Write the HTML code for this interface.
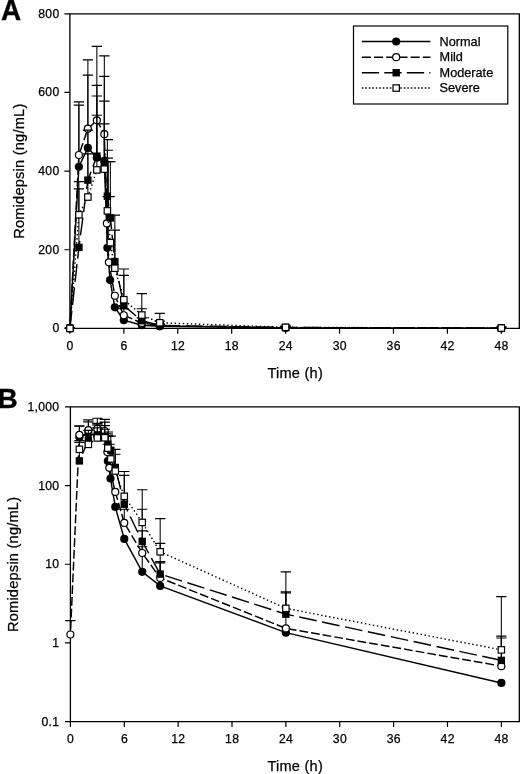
<!DOCTYPE html>
<html lang="en"><head><meta charset="utf-8"><title>Romidepsin concentration-time profiles</title>
<style>html,body{margin:0;padding:0;background:#fff}svg{display:block}</style></head>
<body>
<svg width="520" height="774" viewBox="0 0 520 774" font-family="'Liberation Sans', Arial, sans-serif" fill="#000">
<rect width="520" height="774" fill="#fff"/>
<path d="M69.9 13.8H519.3V328.4H69.9Z" fill="none" stroke="#000" stroke-width="1.3"/><path d="M69.90 328.4v5.3M123.83 328.4v5.3M177.76 328.4v5.3M231.68 328.4v5.3M285.61 328.4v5.3M339.54 328.4v5.3M393.47 328.4v5.3M447.40 328.4v5.3M501.32 328.4v5.3" stroke="#000" stroke-width="1.2" fill="none"/>
<path d="M69.9 328.40h-5.5M69.9 249.75h-5.5M69.9 171.10h-5.5M69.9 92.45h-5.5M69.9 13.80h-5.5" stroke="#000" stroke-width="1.2" fill="none"/>
<g clip-path="url(#ca)">
<path d="M69.90 328.40L78.89 166.77L87.88 147.90L96.86 157.73L104.32 160.88L107.38 247.78L110.05 280.03L114.84 307.36L123.83 320.14L141.80 325.25L159.78 326.32L285.61 327.87L501.32 328.28" fill="none" stroke="#000" stroke-width="1.45"/>
<path d="M78.89 166.77V105.03M87.88 147.90V75.15M96.86 157.73V85.37M104.32 160.88V76.33M107.38 247.78V158.12M141.80 325.25V321.83M159.78 326.32V324.15" fill="none" stroke="#000" stroke-width="1.05"/><path d="M73.74 105.03H84.04M82.73 75.15H93.03M91.71 85.37H102.01M99.17 76.33H109.47M103.60 158.12H113.00M136.65 321.83H146.95M154.63 324.15H164.93" fill="none" stroke="#000" stroke-width="1.2"/>
<circle cx="69.90" cy="328.40" r="4.1" fill="#000"/>
<circle cx="78.89" cy="166.77" r="4.1" fill="#000"/>
<circle cx="87.88" cy="147.90" r="4.1" fill="#000"/>
<circle cx="96.86" cy="157.73" r="4.1" fill="#000"/>
<circle cx="104.32" cy="160.88" r="4.1" fill="#000"/>
<circle cx="107.38" cy="247.78" r="4.1" fill="#000"/>
<circle cx="110.05" cy="280.03" r="4.1" fill="#000"/>
<circle cx="114.84" cy="307.36" r="4.1" fill="#000"/>
<circle cx="123.83" cy="320.14" r="4.1" fill="#000"/>
<circle cx="141.80" cy="325.25" r="4.1" fill="#000"/>
<circle cx="159.78" cy="326.32" r="4.1" fill="#000"/>
<circle cx="285.61" cy="327.87" r="4.1" fill="#000"/>
<circle cx="501.32" cy="328.28" r="4.1" fill="#000"/>
<path d="M69.90 327.90L78.89 154.98L87.88 128.63L96.86 120.37L104.32 134.13L106.88 223.40L108.85 262.33L114.84 295.76L123.83 315.23L141.80 322.93L159.78 325.77L285.61 327.80L501.32 328.20" fill="none" stroke="#000" stroke-width="1.45" stroke-dasharray="8.8 3.0"/>
<path d="M69.90 327.90V327.64M78.89 154.98V101.89M87.88 128.63V59.81M96.86 120.37V46.44M104.32 134.13V55.88M106.88 223.40V196.66M108.30 262.33V161.66M123.83 315.23V308.74M141.80 322.93V317.94M159.78 325.77V324.31M285.61 327.80V326.70M501.32 328.20V327.95" fill="none" stroke="#000" stroke-width="1.05"/><path d="M64.75 327.64H75.05M73.74 101.89H84.04M82.73 59.81H93.03M91.71 46.44H102.01M99.17 55.88H109.47M102.60 196.66H114.80M103.15 161.66H113.45M118.68 308.74H128.98M136.65 317.94H146.95M154.63 324.31H164.93M280.46 326.70H290.76M496.17 327.95H506.47" fill="none" stroke="#000" stroke-width="1.2"/>
<circle cx="69.90" cy="327.90" r="3.5" fill="#fff" stroke="#000" stroke-width="1.2"/>
<circle cx="78.89" cy="154.98" r="3.5" fill="#fff" stroke="#000" stroke-width="1.2"/>
<circle cx="87.88" cy="128.63" r="3.5" fill="#fff" stroke="#000" stroke-width="1.2"/>
<circle cx="96.86" cy="120.37" r="3.5" fill="#fff" stroke="#000" stroke-width="1.2"/>
<circle cx="104.32" cy="134.13" r="3.5" fill="#fff" stroke="#000" stroke-width="1.2"/>
<circle cx="106.88" cy="223.40" r="3.5" fill="#fff" stroke="#000" stroke-width="1.2"/>
<circle cx="108.85" cy="262.33" r="3.5" fill="#fff" stroke="#000" stroke-width="1.2"/>
<circle cx="114.84" cy="295.76" r="3.5" fill="#fff" stroke="#000" stroke-width="1.2"/>
<circle cx="123.83" cy="315.23" r="3.5" fill="#fff" stroke="#000" stroke-width="1.2"/>
<circle cx="141.80" cy="322.93" r="3.5" fill="#fff" stroke="#000" stroke-width="1.2"/>
<circle cx="159.78" cy="325.77" r="3.5" fill="#fff" stroke="#000" stroke-width="1.2"/>
<circle cx="285.61" cy="327.80" r="3.5" fill="#fff" stroke="#000" stroke-width="1.2"/>
<circle cx="501.32" cy="328.20" r="3.5" fill="#fff" stroke="#000" stroke-width="1.2"/>
<path d="M69.90 328.40L78.89 247.39L87.88 180.14L96.86 156.16L104.32 162.45L107.38 196.27L110.35 217.90L114.84 261.55L123.83 305.59L141.80 320.73L159.78 325.45L285.61 327.49L501.32 328.16" fill="none" stroke="#000" stroke-width="1.45" stroke-dasharray="17.8 5.6"/>
<path d="M78.89 247.39V188.80M87.88 180.14V130.20M96.86 156.16V95.99M104.32 162.45V101.10M107.38 196.27V150.26M110.35 217.90V161.66M114.84 261.55V215.14M123.83 305.59V275.31M141.80 320.73V308.74M159.78 325.45V321.16M285.61 327.49V326.64M501.32 328.16V327.92" fill="none" stroke="#000" stroke-width="1.05"/><path d="M73.74 188.80H84.04M82.73 130.20H93.03M91.71 95.99H102.01M99.17 101.10H109.47M103.60 150.26H113.00M105.20 161.66H115.50M109.69 215.14H119.99M118.68 275.31H128.98M136.65 308.74H146.95M154.63 321.16H164.93M280.46 326.64H290.76M496.17 327.92H506.47" fill="none" stroke="#000" stroke-width="1.2"/>
<rect x="66.20" y="324.70" width="7.4" height="7.4" fill="#000"/>
<rect x="75.19" y="243.69" width="7.4" height="7.4" fill="#000"/>
<rect x="84.18" y="176.44" width="7.4" height="7.4" fill="#000"/>
<rect x="93.16" y="152.46" width="7.4" height="7.4" fill="#000"/>
<rect x="100.62" y="158.75" width="7.4" height="7.4" fill="#000"/>
<rect x="103.68" y="192.57" width="7.4" height="7.4" fill="#000"/>
<rect x="106.65" y="214.20" width="7.4" height="7.4" fill="#000"/>
<rect x="111.14" y="257.85" width="7.4" height="7.4" fill="#000"/>
<rect x="120.13" y="301.89" width="7.4" height="7.4" fill="#000"/>
<rect x="138.10" y="317.03" width="7.4" height="7.4" fill="#000"/>
<rect x="156.08" y="321.75" width="7.4" height="7.4" fill="#000"/>
<rect x="281.91" y="323.79" width="7.4" height="7.4" fill="#000"/>
<rect x="497.62" y="324.46" width="7.4" height="7.4" fill="#000"/>
<path d="M69.90 328.40L78.89 214.75L87.88 197.05L96.86 169.92L104.32 169.13L107.38 210.82L110.35 242.67L114.84 268.23L123.83 299.69L141.80 315.03L159.78 322.74L285.61 327.32L501.32 328.08" fill="none" stroke="#000" stroke-width="1.45" stroke-dasharray="1.4 2.65"/>
<path d="M78.89 214.75V181.72M87.88 197.05V153.80M96.86 169.92V115.26M104.32 169.13V123.91M107.38 210.82V139.64M114.84 268.23V230.09M123.83 299.69V269.02M141.80 315.03V293.60M159.78 322.74V313.46M285.61 327.32V325.25M501.32 328.08V326.88" fill="none" stroke="#000" stroke-width="1.05"/><path d="M73.74 181.72H84.04M82.73 153.80H93.03M91.71 115.26H102.01M99.17 123.91H109.47M103.60 139.64H113.00M109.69 230.09H119.99M118.68 269.02H128.98M136.65 293.60H146.95M154.63 313.46H164.93M280.46 325.25H290.76M496.17 326.88H506.47" fill="none" stroke="#000" stroke-width="1.2"/>
<rect x="66.70" y="325.20" width="6.4" height="6.4" fill="#fff" stroke="#000" stroke-width="1.2"/>
<rect x="75.69" y="211.55" width="6.4" height="6.4" fill="#fff" stroke="#000" stroke-width="1.2"/>
<rect x="84.68" y="193.85" width="6.4" height="6.4" fill="#fff" stroke="#000" stroke-width="1.2"/>
<rect x="93.66" y="166.72" width="6.4" height="6.4" fill="#fff" stroke="#000" stroke-width="1.2"/>
<rect x="101.12" y="165.93" width="6.4" height="6.4" fill="#fff" stroke="#000" stroke-width="1.2"/>
<rect x="104.18" y="207.62" width="6.4" height="6.4" fill="#fff" stroke="#000" stroke-width="1.2"/>
<rect x="107.15" y="239.47" width="6.4" height="6.4" fill="#fff" stroke="#000" stroke-width="1.2"/>
<rect x="111.64" y="265.03" width="6.4" height="6.4" fill="#fff" stroke="#000" stroke-width="1.2"/>
<rect x="120.63" y="296.49" width="6.4" height="6.4" fill="#fff" stroke="#000" stroke-width="1.2"/>
<rect x="138.60" y="311.83" width="6.4" height="6.4" fill="#fff" stroke="#000" stroke-width="1.2"/>
<rect x="156.58" y="319.54" width="6.4" height="6.4" fill="#fff" stroke="#000" stroke-width="1.2"/>
<rect x="282.41" y="324.12" width="6.4" height="6.4" fill="#fff" stroke="#000" stroke-width="1.2"/>
<rect x="498.12" y="324.88" width="6.4" height="6.4" fill="#fff" stroke="#000" stroke-width="1.2"/>
</g>
<g font-size="12.2" text-anchor="end" stroke="#000" stroke-width="0.25" letter-spacing="0.3">
<text x="59.5" y="332.40">0</text>
<text x="59.5" y="253.75">200</text>
<text x="59.5" y="175.10">400</text>
<text x="59.5" y="96.45">600</text>
<text x="59.5" y="17.80">800</text>
</g>
<g font-size="12.2" text-anchor="middle" stroke="#000" stroke-width="0.25" letter-spacing="0.3">
<text x="70.10" y="350">0</text>
<text x="124.03" y="350">6</text>
<text x="177.96" y="350">12</text>
<text x="231.88" y="350">18</text>
<text x="285.81" y="350">24</text>
<text x="339.74" y="350">30</text>
<text x="393.67" y="350">36</text>
<text x="447.60" y="350">42</text>
<text x="501.52" y="350">48</text>
</g>
<g font-size="14.6" text-anchor="middle" stroke="#000" stroke-width="0.25" letter-spacing="0.22">
<text x="295.2" y="377.5">Time (h)</text>
<text x="295.2" y="771">Time (h)</text>
<text transform="translate(23.8 171.2) rotate(-90)">Romidepsin (ng/mL)</text>
<text transform="translate(17.6 564.4) rotate(-90)">Romidepsin (ng/mL)</text>
</g>
<g font-size="28" font-weight="bold" stroke="#000" stroke-width="0.35">
<text transform="translate(0.9 20) scale(0.975 1)" font-size="28.6">A</text>
<text x="-2.4" y="408.3">B</text>
</g>
<rect x="353.5" y="26" width="154.3" height="78" fill="#fff" stroke="#000" stroke-width="1.2"/>
<path d="M361.8 41.5H430.4" stroke="#000" stroke-width="1.45" fill="none"/>
<circle cx="396.20" cy="41.50" r="4.1" fill="#000"/>
<path d="M361.8 57.2H430.4" stroke="#000" stroke-width="1.45" fill="none" stroke-dasharray="9.1 3.1"/>
<circle cx="396.20" cy="57.20" r="3.5" fill="#fff" stroke="#000" stroke-width="1.2"/>
<path d="M361.8 72.75H430.4" stroke="#000" stroke-width="1.45" fill="none" stroke-dasharray="17.3 5.2"/>
<rect x="392.50" y="69.05" width="7.4" height="7.4" fill="#000"/>
<path d="M361.8 88.05H430.4" stroke="#000" stroke-width="1.45" fill="none" stroke-dasharray="1.5 2.0"/>
<rect x="393.00" y="84.85" width="6.4" height="6.4" fill="#fff" stroke="#000" stroke-width="1.2"/>
<g font-size="12.7" stroke="#000" stroke-width="0.25">
<text x="439.6" y="45.70">Normal</text>
<text x="439.6" y="61.40">Mild</text>
<text x="439.6" y="76.95">Moderate</text>
<text x="439.6" y="92.25">Severe</text>
</g>
<path d="M70.4 406.9H519.3V721.6H70.4Z" fill="none" stroke="#000" stroke-width="1.3"/><path d="M70.40 721.6v5.3M124.27 721.6v5.3M178.14 721.6v5.3M232.00 721.6v5.3M285.87 721.6v5.3M339.74 721.6v5.3M393.61 721.6v5.3M447.48 721.6v5.3M501.34 721.6v5.3" stroke="#000" stroke-width="1.2" fill="none"/>
<path d="M70.4 721.60h-5.5M70.4 642.92h-5.5M70.4 564.25h-5.5M70.4 485.57h-5.5M70.4 406.90h-5.5" stroke="#000" stroke-width="1.2" fill="none"/>
<path d="M79.38 437.28L88.36 433.51L97.33 435.42L104.79 436.06L107.84 461.05L110.50 478.50L115.29 506.95L124.27 538.90L142.22 571.87L160.18 585.94L285.87 632.67L501.34 682.94" fill="none" stroke="#000" stroke-width="1.45"/>
<path d="M79.38 437.28V426.23M88.36 433.51V421.94M97.33 435.42V423.34M104.79 436.06V422.10M107.84 461.05V435.50M142.22 571.87V546.73M160.18 585.94V561.62" fill="none" stroke="#000" stroke-width="1.05"/><path d="M74.23 426.23H84.53M83.21 421.94H93.51M92.18 423.34H102.48M99.64 422.10H109.94M103.60 435.50H113.00M137.07 546.73H147.37M155.03 561.62H165.33" fill="none" stroke="#000" stroke-width="1.2"/>
<circle cx="79.38" cy="437.28" r="4.1" fill="#000"/>
<circle cx="88.36" cy="433.51" r="4.1" fill="#000"/>
<circle cx="97.33" cy="435.42" r="4.1" fill="#000"/>
<circle cx="104.79" cy="436.06" r="4.1" fill="#000"/>
<circle cx="107.84" cy="461.05" r="4.1" fill="#000"/>
<circle cx="110.50" cy="478.50" r="4.1" fill="#000"/>
<circle cx="115.29" cy="506.95" r="4.1" fill="#000"/>
<circle cx="124.27" cy="538.90" r="4.1" fill="#000"/>
<circle cx="142.22" cy="571.87" r="4.1" fill="#000"/>
<circle cx="160.18" cy="585.94" r="4.1" fill="#000"/>
<circle cx="285.87" cy="632.67" r="4.1" fill="#000"/>
<circle cx="501.34" cy="682.94" r="4.1" fill="#000"/>
<path d="M70.40 634.49L79.38 434.87L88.36 430.04L97.33 428.66L104.79 431.00L107.34 452.02L109.30 467.85L115.29 491.94L124.27 522.94L142.22 553.00L160.18 577.93L285.87 628.39L501.34 666.13" fill="none" stroke="#000" stroke-width="1.45" stroke-dasharray="8.8 3.0" stroke-dashoffset="6.72"/>
<path d="M70.40 634.49V620.64M79.38 434.87V425.75M88.36 430.04V419.93M97.33 428.66V418.27M104.79 431.00V419.43M107.34 452.02V444.27M108.30 467.85V436.22M124.27 522.94V509.26M142.22 553.00V530.82M160.18 577.93V562.91M285.87 628.39V592.85M501.34 666.13V638.00" fill="none" stroke="#000" stroke-width="1.05"/><path d="M65.25 620.64H75.55M74.23 425.75H84.53M83.21 419.93H93.51M92.18 418.27H102.48M99.64 419.43H109.94M102.60 444.27H114.80M103.15 436.22H113.45M119.12 509.26H129.42M137.07 530.82H147.37M155.03 562.91H165.33M280.72 592.85H291.02M496.19 638.00H506.49" fill="none" stroke="#000" stroke-width="1.2"/>
<circle cx="70.40" cy="634.49" r="3.5" fill="#fff" stroke="#000" stroke-width="1.2"/>
<circle cx="79.38" cy="434.87" r="3.5" fill="#fff" stroke="#000" stroke-width="1.2"/>
<circle cx="88.36" cy="430.04" r="3.5" fill="#fff" stroke="#000" stroke-width="1.2"/>
<circle cx="97.33" cy="428.66" r="3.5" fill="#fff" stroke="#000" stroke-width="1.2"/>
<circle cx="104.79" cy="431.00" r="3.5" fill="#fff" stroke="#000" stroke-width="1.2"/>
<circle cx="107.34" cy="452.02" r="3.5" fill="#fff" stroke="#000" stroke-width="1.2"/>
<circle cx="109.30" cy="467.85" r="3.5" fill="#fff" stroke="#000" stroke-width="1.2"/>
<circle cx="115.29" cy="491.94" r="3.5" fill="#fff" stroke="#000" stroke-width="1.2"/>
<circle cx="124.27" cy="522.94" r="3.5" fill="#fff" stroke="#000" stroke-width="1.2"/>
<circle cx="142.22" cy="553.00" r="3.5" fill="#fff" stroke="#000" stroke-width="1.2"/>
<circle cx="160.18" cy="577.93" r="3.5" fill="#fff" stroke="#000" stroke-width="1.2"/>
<circle cx="285.87" cy="628.39" r="3.5" fill="#fff" stroke="#000" stroke-width="1.2"/>
<circle cx="501.34" cy="666.13" r="3.5" fill="#fff" stroke="#000" stroke-width="1.2"/>
<path d="M79.38 460.88L88.36 440.23L97.33 435.11L104.79 436.38L107.84 444.17L110.80 450.27L115.29 467.44L124.27 504.19L142.22 541.43L160.18 574.08L285.87 614.17L501.34 660.38" fill="none" stroke="#000" stroke-width="1.45" stroke-dasharray="17.8 5.6" stroke-dashoffset="15.65"/>
<path d="M79.38 460.88V442.29M88.36 440.23V430.31M97.33 435.11V424.87M104.79 436.38V425.63M107.84 444.17V433.96M110.80 450.27V436.22M115.29 467.44V449.43M124.27 504.19V475.32M142.22 541.43V509.26M160.18 574.08V543.42M285.87 614.17V591.76M501.34 660.38V636.13" fill="none" stroke="#000" stroke-width="1.05"/><path d="M74.23 442.29H84.53M83.21 430.31H93.51M92.18 424.87H102.48M99.64 425.63H109.94M103.60 433.96H113.00M105.65 436.22H115.95M110.14 449.43H120.44M119.12 475.32H129.42M137.07 509.26H147.37M155.03 543.42H165.33M280.72 591.76H291.02M496.19 636.13H506.49" fill="none" stroke="#000" stroke-width="1.2"/>
<rect x="75.68" y="457.18" width="7.4" height="7.4" fill="#000"/>
<rect x="84.66" y="436.53" width="7.4" height="7.4" fill="#000"/>
<rect x="93.63" y="431.41" width="7.4" height="7.4" fill="#000"/>
<rect x="101.09" y="432.68" width="7.4" height="7.4" fill="#000"/>
<rect x="104.14" y="440.47" width="7.4" height="7.4" fill="#000"/>
<rect x="107.10" y="446.57" width="7.4" height="7.4" fill="#000"/>
<rect x="111.59" y="463.74" width="7.4" height="7.4" fill="#000"/>
<rect x="120.57" y="500.49" width="7.4" height="7.4" fill="#000"/>
<rect x="138.52" y="537.73" width="7.4" height="7.4" fill="#000"/>
<rect x="156.48" y="570.38" width="7.4" height="7.4" fill="#000"/>
<rect x="282.17" y="610.47" width="7.4" height="7.4" fill="#000"/>
<rect x="497.64" y="656.68" width="7.4" height="7.4" fill="#000"/>
<path d="M79.38 449.31L88.36 444.37L97.33 437.95L104.79 437.78L107.84 448.15L110.80 458.95L115.29 471.04L124.27 496.33L142.22 522.44L160.18 551.79L285.87 608.36L501.34 649.87" fill="none" stroke="#000" stroke-width="1.45" stroke-dasharray="1.4 2.65" stroke-dashoffset="1.75"/>
<path d="M79.38 449.31V440.60M88.36 444.37V434.64M97.33 437.95V427.83M104.79 437.78V429.24M107.84 448.15V431.98M115.29 471.04V454.27M124.27 496.33V471.49M142.22 522.44V489.75M160.18 551.79V518.64M285.87 608.36V571.87M501.34 649.87V596.69" fill="none" stroke="#000" stroke-width="1.05"/><path d="M74.23 440.60H84.53M83.21 434.64H93.51M92.18 427.83H102.48M99.64 429.24H109.94M103.60 431.98H113.00M110.14 454.27H120.44M119.12 471.49H129.42M137.07 489.75H147.37M155.03 518.64H165.33M280.72 571.87H291.02M496.19 596.69H506.49" fill="none" stroke="#000" stroke-width="1.2"/>
<rect x="76.18" y="446.11" width="6.4" height="6.4" fill="#fff" stroke="#000" stroke-width="1.2"/>
<rect x="85.16" y="441.17" width="6.4" height="6.4" fill="#fff" stroke="#000" stroke-width="1.2"/>
<rect x="94.13" y="434.75" width="6.4" height="6.4" fill="#fff" stroke="#000" stroke-width="1.2"/>
<rect x="101.59" y="434.58" width="6.4" height="6.4" fill="#fff" stroke="#000" stroke-width="1.2"/>
<rect x="104.64" y="444.95" width="6.4" height="6.4" fill="#fff" stroke="#000" stroke-width="1.2"/>
<rect x="107.60" y="455.75" width="6.4" height="6.4" fill="#fff" stroke="#000" stroke-width="1.2"/>
<rect x="112.09" y="467.84" width="6.4" height="6.4" fill="#fff" stroke="#000" stroke-width="1.2"/>
<rect x="121.07" y="493.13" width="6.4" height="6.4" fill="#fff" stroke="#000" stroke-width="1.2"/>
<rect x="139.02" y="519.24" width="6.4" height="6.4" fill="#fff" stroke="#000" stroke-width="1.2"/>
<rect x="156.98" y="548.59" width="6.4" height="6.4" fill="#fff" stroke="#000" stroke-width="1.2"/>
<rect x="282.67" y="605.16" width="6.4" height="6.4" fill="#fff" stroke="#000" stroke-width="1.2"/>
<rect x="498.14" y="646.67" width="6.4" height="6.4" fill="#fff" stroke="#000" stroke-width="1.2"/>
<g font-size="12.2" text-anchor="middle" stroke="#000" stroke-width="0.25" letter-spacing="0.3">
<text x="70.60" y="743.2">0</text>
<text x="124.47" y="743.2">6</text>
<text x="178.34" y="743.2">12</text>
<text x="232.20" y="743.2">18</text>
<text x="286.07" y="743.2">24</text>
<text x="339.94" y="743.2">30</text>
<text x="393.81" y="743.2">36</text>
<text x="447.68" y="743.2">42</text>
<text x="501.54" y="743.2">48</text>
</g>
<g font-size="12.2" text-anchor="end" stroke="#000" stroke-width="0.25" letter-spacing="0.3">
<text x="59.4" y="725.60">0.1</text>
<text x="59.4" y="646.92">1</text>
<text x="59.4" y="568.25">10</text>
<text x="59.4" y="489.57">100</text>
<text x="59.4" y="410.90">1,000</text>
</g>
<defs><clipPath id="ca"><rect x="0" y="0" width="520" height="334"/></clipPath></defs>
</svg>
</body></html>
